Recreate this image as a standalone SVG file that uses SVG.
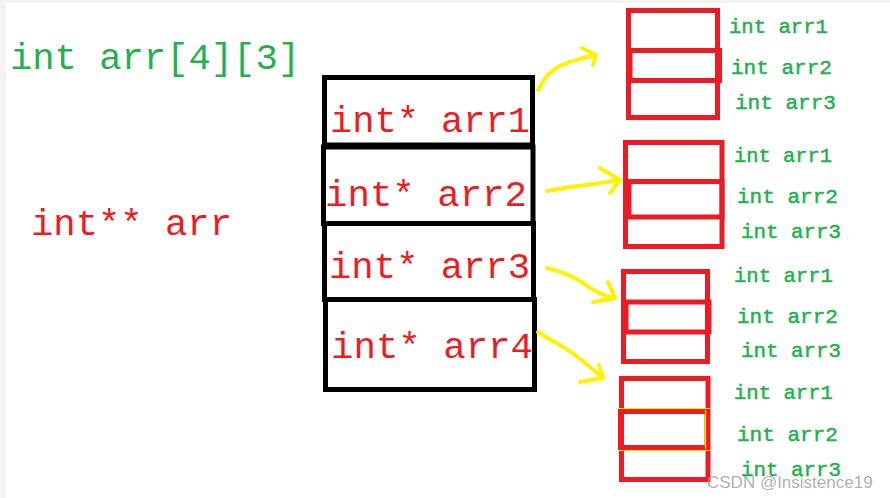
<svg xmlns="http://www.w3.org/2000/svg" width="890" height="498" viewBox="0 0 890 498">
<style>
.big{font-family:"Liberation Mono","DejaVu Sans Mono",monospace;font-size:37px}
.red{fill:#ed1c24}
.grn{fill:#22b14c}
.sm{font-family:"Liberation Mono","DejaVu Sans Mono",monospace;font-size:21px;fill:#22b14c;stroke:#22b14c;stroke-width:0.5}
.blk{fill:none;stroke:#000;stroke-width:5}
.rb{fill:none;stroke:#ed1c24;stroke-width:5}
.ar{fill:none;stroke:#fff200;stroke-width:4;stroke-linecap:round;stroke-linejoin:round}
.wm{font-family:"Liberation Sans","DejaVu Sans",sans-serif;font-size:17px;fill:#9a9a9a;fill-opacity:0.8}
</style>
<rect x="0" y="0" width="890" height="498" fill="#ffffff"/>
<rect x="0" y="0" width="6" height="498" fill="#f3f3f3"/>
<rect x="0" y="0" width="890" height="3" fill="#f3f3f3"/>

<g id="title"><text class="big grn" x="10" y="69" textLength="290" lengthAdjust="spacingAndGlyphs">int arr[4][3]</text></g>
<g id="ptr"><text class="big red" x="31" y="235" textLength="201" lengthAdjust="spacingAndGlyphs">int** arr</text></g>

<g id="p1"><rect class="blk" x="324.5" y="77.5" width="208" height="67.5"/><text class="big red" x="330" y="132" textLength="200" lengthAdjust="spacingAndGlyphs">int* arr1</text></g>
<g id="p2"><rect class="blk" x="323.5" y="147" width="209.5" height="76.5"/><text class="big red" x="325" y="206" textLength="202" lengthAdjust="spacingAndGlyphs">int* arr2</text></g>
<g id="p3"><rect class="blk" x="324.5" y="223.5" width="209" height="76"/><text class="big red" x="329" y="278" textLength="201" lengthAdjust="spacingAndGlyphs">int* arr3</text></g>
<g id="p4"><rect class="blk" x="325.5" y="299.5" width="209" height="90"/><text class="big red" x="331" y="358" textLength="202" lengthAdjust="spacingAndGlyphs">int* arr4</text></g>

<g id="a1">
<rect class="rb" x="628.5" y="10.5" width="89" height="107"/>
<rect class="rb" x="630" y="50.5" width="89.5" height="30"/>
<text class="sm" x="729" y="33" textLength="99" lengthAdjust="spacingAndGlyphs">int arr1</text>
<text class="sm" x="731" y="74" textLength="101" lengthAdjust="spacingAndGlyphs">int arr2</text>
<text class="sm" x="735" y="109" textLength="101" lengthAdjust="spacingAndGlyphs">int arr3</text>
</g>
<g id="a2">
<rect class="rb" x="625.5" y="142.5" width="96.5" height="104"/>
<rect class="rb" x="629" y="181.5" width="93" height="35.5"/>
<text class="sm" x="734" y="162" textLength="98" lengthAdjust="spacingAndGlyphs">int arr1</text>
<text class="sm" x="737" y="203" textLength="101" lengthAdjust="spacingAndGlyphs">int arr2</text>
<text class="sm" x="741" y="238" textLength="100" lengthAdjust="spacingAndGlyphs">int arr3</text>
</g>
<g id="a3">
<rect class="rb" x="623.5" y="271.5" width="84" height="90"/>
<rect class="rb" x="626" y="302" width="83" height="30"/>
<text class="sm" x="734" y="282" textLength="99" lengthAdjust="spacingAndGlyphs">int arr1</text>
<text class="sm" x="737" y="323" textLength="101" lengthAdjust="spacingAndGlyphs">int arr2</text>
<text class="sm" x="741" y="357" textLength="100" lengthAdjust="spacingAndGlyphs">int arr3</text>
</g>
<g id="a4">
<rect class="rb" x="621.5" y="378.5" width="86.5" height="101"/>
<rect class="rb" x="620.5" y="411.5" width="86.5" height="36"/>
<line x1="618" y1="408.5" x2="710" y2="408.5" stroke="#fff200" stroke-width="1.2"/>
<line x1="618" y1="450.5" x2="710" y2="450.5" stroke="#fff200" stroke-width="1.2"/>
<line x1="705.5" y1="410" x2="705.5" y2="449" stroke="#fff200" stroke-width="1.2"/>
<text class="sm" x="734" y="399" textLength="99" lengthAdjust="spacingAndGlyphs">int arr1</text>
<text class="sm" x="737" y="441" textLength="101" lengthAdjust="spacingAndGlyphs">int arr2</text>
<text class="sm" x="741" y="476" textLength="100" lengthAdjust="spacingAndGlyphs">int arr3</text>
</g>

<g id="connectors">
<path class="ar" d="M538,90 C543,80 550,70 562,65 C575,60 585,57 596,55 M582,48 L596,55 L593,65"/>
<path class="ar" d="M547,191 C570,187 595,184 620,180 M600,168 L620,180 L610,193"/>
<path class="ar" d="M547,268 C565,272 580,280 590,288 C600,294 608,297 615,298 M608,282 L615,298 L593,302"/>
<path class="ar" d="M538,332 C550,340 565,347 575,355 C588,365 596,372 603,378 M599,365 L603,378 L580,382"/>
</g>

<text class="wm" x="707" y="488">CSDN @Insistence19</text>
</svg>
